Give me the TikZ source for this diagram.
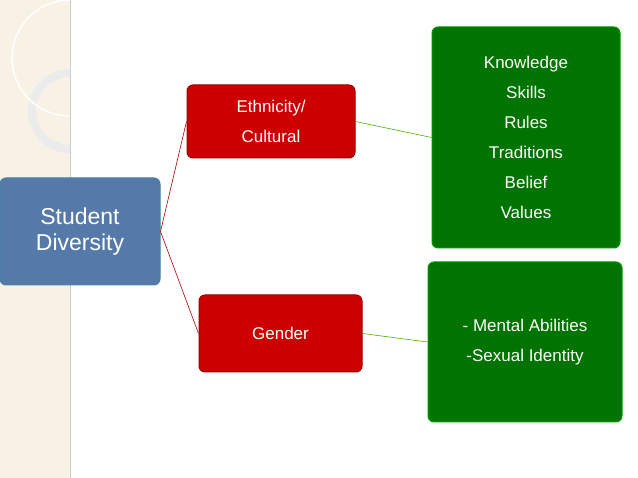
\documentclass[tikz,border=0pt]{standalone}
\usepackage{fontspec}
\setmainfont{Liberation Sans}
\begin{document}
\begin{tikzpicture}[x=1pt,y=-1pt,
  box/.style={draw=#1!60!black, line width=1pt, rounded corners=6pt, text=white, align=center, font=\fontsize{17}{30}\selectfont},
  link/.style={line width=0.6pt}]
\useasboundingbox (0,0) rectangle (638,478);
\fill[white] (0,0) rectangle (638,478);
\fill[yellow!8!brown!12!white] (0,0) rectangle (70,478);
\draw[gray!40,line width=1pt] (70,0) -- (70,478);
\begin{scope}
\clip (0,0) rectangle (70,478);
\draw[white!92!black, line width=8pt] (70,111) circle (38);
\draw[white, line width=1.5pt] (70,58) circle (58);
\end{scope}
\node[box=cyan, fill=cyan!55!blue!70!black!85, minimum width=160pt, minimum height=107pt, font=\fontsize{23}{26}\selectfont] (sd) at (80,231.5) {Student\\Diversity};
\node[box=red, fill=red!80!black, minimum width=168pt, minimum height=73pt] (eth) at (271,121.5) {Ethnicity/\\Cultural};
\node[box=red, fill=red!80!black, minimum width=163pt, minimum height=77pt] (gen) at (280.5,333.5) {Gender};
\node[box=green, fill=green!45!black, minimum width=188pt, minimum height=221pt] (kn) at (526,137.5) {Knowledge\\Skills\\Rules\\Traditions\\Belief\\Values};
\node[box=green, fill=green!45!black, minimum width=194pt, minimum height=160pt, yshift=0pt] (ma) at (525,342) {- Mental Abilities\\-Sexual Identity};
\draw[link, red!70!black] (sd.east) -- (eth.west);
\draw[link, red!70!black] (sd.east) -- (gen.west);
\draw[link, green!60!yellow!70!black] (eth.east) -- (kn.west);
\draw[link, green!60!yellow!70!black] (gen.east) -- (ma.west);
\end{tikzpicture}
\end{document}
